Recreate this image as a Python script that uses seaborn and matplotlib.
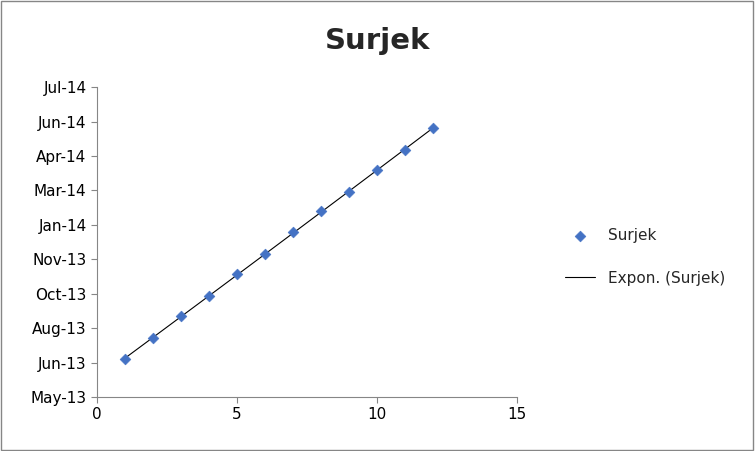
import matplotlib
matplotlib.use("Agg")
import matplotlib.pyplot as plt
import matplotlib.dates as mdates
import seaborn as sns
import numpy as np
import pandas as pd
from datetime import date, timedelta

# Data
x_vals = list(range(1, 13))
dates = ["2013-06-30", "2013-07-31", "2013-08-31", "2013-09-30", "2013-10-31", "2013-11-30",
         "2013-12-31", "2014-01-31", "2014-02-28", "2014-03-31", "2014-04-30", "2014-05-31"]
y_start = date(2013, 5, 6)
y_step_days = 50
y_ticks_n = 10

df = pd.DataFrame({"x": x_vals, "y": mdates.date2num(pd.to_datetime(dates))})

sns.set_style("white")
fig = plt.figure(figsize=(7.55, 4.51), dpi=100)
ax = fig.add_axes([0.1285, 0.1197, 0.556, 0.687])

# exponential trendline
b, a = np.polyfit(df["x"], np.log(df["y"]), 1)
xt = np.linspace(1, 12, 100)
ax.plot(xt, np.exp(a + b * xt), color="black", lw=0.8, label="Expon. (Surjek)")
sns.scatterplot(data=df, x="x", y="y", marker="D", s=30, color="#4472C4",
                edgecolor="#4472C4", ax=ax, label="Surjek", zorder=3, legend=False)

ticks = [mdates.date2num(y_start + timedelta(days=y_step_days * i)) for i in range(y_ticks_n)]
ax.set_yticks(ticks)
ax.set_ylim(ticks[0], ticks[-1])
ax.yaxis.set_major_formatter(mdates.DateFormatter("%b-%y"))
ax.set_xlim(0, 15)
ax.set_xticks([0, 5, 10, 15])
ax.set_xlabel("")
ax.set_ylabel("")
for s in ["top", "right"]:
    ax.spines[s].set_visible(False)
for s in ["left", "bottom"]:
    ax.spines[s].set_color("#868686")
ax.tick_params(axis="both", length=4, color="#868686", labelsize=11, direction="out",
               bottom=True, left=True, labelcolor="black")
if ax.get_legend():
    ax.get_legend().remove()

fig.text(0.5, 0.91, "Surjek", fontsize=21, fontweight="bold", ha="center", va="center")
h, l = ax.get_legend_handles_labels()
fig.legend(h[::-1], l[::-1], loc="center left", bbox_to_anchor=(0.73, 0.43),
           frameon=False, fontsize=11, labelspacing=1.8)

fig.patches.append(plt.Rectangle((0.001, 0.002), 0.997, 0.996, transform=fig.transFigure,
                                 fill=False, edgecolor="#868686", lw=1))
fig.savefig("out.png", dpi=100)
